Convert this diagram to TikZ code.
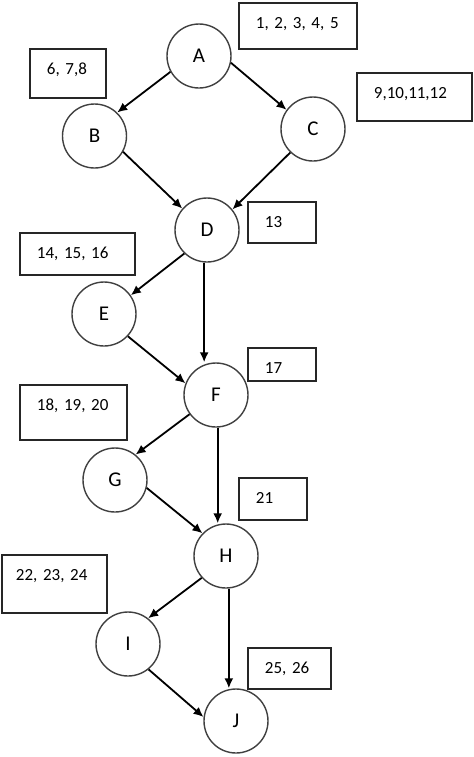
\documentclass[tikz,border=0pt]{standalone}
\usepackage{fontspec}
\setmainfont{Carlito}
\usetikzlibrary{arrows.meta}
\newcommand{\flowarrow}{-{Latex[length=5pt,width=4.5pt]}}

\begin{document}
\begin{tikzpicture}[x=0.5pt,y=-0.5pt,
	task/.style={draw=black!75,circle,line width=0.7pt,minimum size=32pt,inner sep=0pt,font=\fontsize{10.5}{12}\selectfont},
	numbox/.style={draw=black!85,line width=0.9pt,anchor=north west,inner xsep=8.5pt,inner ysep=0pt,align=left,text height=12.75pt,font=\fontsize{8.5}{10}\selectfont\frenchspacing},
	every path/.style={line width=0.9pt}]
	\useasboundingbox (0,0) rectangle (474,757);
	\node[task] (A) at (199,56) {A};
	\node[task] (B) at (94.5,136) {B};
	\node[task] (C) at (313,129) {C};
	\node[task] (D) at (207,230) {D};
	\node[task] (E) at (104,314) {E};
	\node[task] (F) at (216,395) {F};
	\node[task] (G) at (115,480) {G};
	\node[task] (H) at (226,556) {H};
	\node[task] (I) at (128,644) {I};
	\node[task] (J) at (236,721) {J};
	\node[numbox,text width=42pt,text depth=10.25pt] (lA) at (238,2) {1, 2, 3, 4, 5};
	\node[numbox,text width=21pt,text depth=11.75pt] (lB) at (29,48) {6, 7,8};
	\node[numbox,text width=40.5pt,text depth=11.25pt] (lC) at (356,72) {9,10,11,12};
	\node[numbox,text width=17pt,text depth=7.75pt] (lD) at (247,201) {13};
	\node[numbox,text width=40.5pt,text depth=8.25pt] (lE) at (19,232) {14, 15, 16};
	\node[numbox,text width=17pt,text depth=3.75pt] (lF) at (247,347) {17};
	\node[numbox,text width=36.5pt,text depth=14.75pt] (lG) at (19,384) {18, 19, 20};
	\node[numbox,text width=17pt,text depth=8.25pt] (lH) at (238,477) {21};
	\node[numbox,inner xsep=7pt,text width=38.5pt,text depth=16.25pt] (lI) at (1,554) {22, 23, 24};
	\node[numbox,text width=24.5pt,text depth=7.75pt] (lJ) at (247,647) {25, 26};
	\draw[\flowarrow] (A.209) -- (B.46);
	\draw[\flowarrow] (A.-12) -- (C.144);
	\draw[\flowarrow] (B.-29) -- (D.139);
	\draw[\flowarrow] (C.226) -- (D.39);
	\draw[\flowarrow] (D.226) -- (E.35);
	\draw[\flowarrow] (D.265) -- (D.265 |- F.north);
	\draw[\flowarrow] (E.-43) -- (F.159);
	\draw[\flowarrow] (F.216) -- (G.51);
	\draw[\flowarrow] (F.-87) -- (F.-87 |- H.north);
	\draw[\flowarrow] (G.-14) -- (H.136);
	\draw[\flowarrow] (H.222) -- (I.52);
	\draw[\flowarrow] (H.-85) -- (H.-85 |- J.north);
	\draw[\flowarrow] (I.-51) -- (J.173);
\end{tikzpicture}
\end{document}
